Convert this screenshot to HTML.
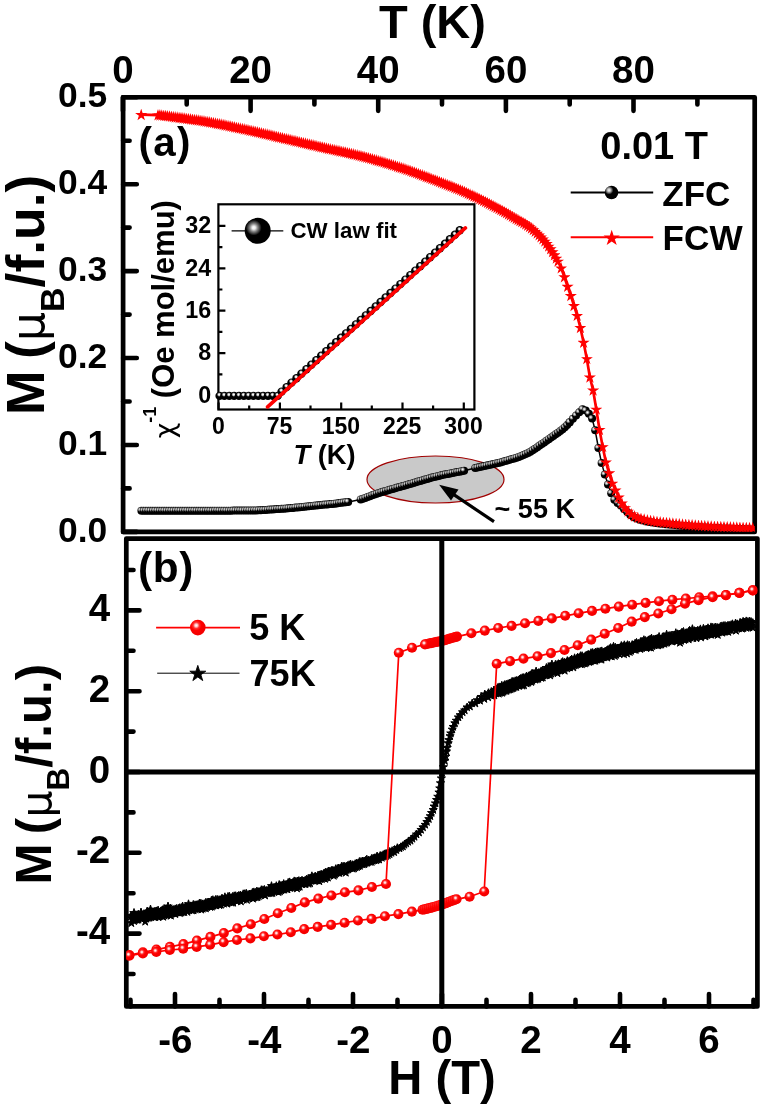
<!DOCTYPE html>
<html lang="en"><head><meta charset="utf-8"><title>Magnetization figure</title>
<style>html,body{margin:0;padding:0;background:#fff}body{width:765px;height:1109px;overflow:hidden}svg{display:block}</style>
</head><body>
<svg width="765" height="1109" viewBox="0 0 765 1109" font-family='"Liberation Sans", Arial, Helvetica, sans-serif' font-weight="bold">
<defs>
<radialGradient id="gk" cx="0.32" cy="0.33" r="0.42"><stop offset="0" stop-color="#fff"/><stop offset="0.3" stop-color="#b8b8b8"/><stop offset="0.75" stop-color="#000"/><stop offset="1" stop-color="#000"/></radialGradient>
<radialGradient id="gkb" cx="0.35" cy="0.38" r="0.30"><stop offset="0" stop-color="#fff"/><stop offset="0.2" stop-color="#eee"/><stop offset="0.5" stop-color="#888"/><stop offset="1" stop-color="#000"/></radialGradient>
<radialGradient id="gki" cx="0.45" cy="0.34" r="0.27"><stop offset="0" stop-color="#fff"/><stop offset="0.35" stop-color="#eee"/><stop offset="1" stop-color="#000"/></radialGradient>
<radialGradient id="gr" cx="0.40" cy="0.36" r="0.5"><stop offset="0" stop-color="#fff"/><stop offset="0.18" stop-color="#ffc8c8"/><stop offset="0.4" stop-color="#ff3030"/><stop offset="0.65" stop-color="#ff0000"/><stop offset="1" stop-color="#f40000"/></radialGradient>
<marker id="mz" markerUnits="userSpaceOnUse" markerWidth="10" markerHeight="10" refX="5" refY="5" viewBox="0 0 10 10"><circle cx="5" cy="5" r="4" fill="url(#gk)"/></marker>
<marker id="mf" markerUnits="userSpaceOnUse" markerWidth="12" markerHeight="12" refX="6" refY="6" viewBox="0 0 12 12"><path d="M6.00,1.70L7.03,4.88L10.37,4.88L7.67,6.84L8.70,10.02L6.00,8.06L3.30,10.02L4.33,6.84L1.63,4.88L4.97,4.88Z" fill="#f00" stroke="#f00" stroke-width="1.1" stroke-linejoin="miter"/></marker>
<marker id="ms" markerUnits="userSpaceOnUse" markerWidth="14" markerHeight="14" refX="7" refY="7" viewBox="0 0 14 14"><path d="M7.00,3.00L7.97,5.97L11.09,5.97L8.56,7.81L9.53,10.78L7.00,8.94L4.47,10.78L5.44,7.81L2.91,5.97L6.03,5.97Z" fill="#000" stroke="#000" stroke-width="1" stroke-linejoin="miter"/></marker>
<marker id="mr" markerUnits="userSpaceOnUse" markerWidth="12" markerHeight="12" refX="6" refY="6" viewBox="0 0 12 12"><circle cx="6" cy="6" r="5.05" fill="url(#gr)"/></marker>
<marker id="mi" markerUnits="userSpaceOnUse" markerWidth="10" markerHeight="10" refX="5" refY="5" viewBox="0 0 10 10"><circle cx="5" cy="5" r="4.2" fill="url(#gki)"/></marker>
<clipPath id="ca"><rect x="123.1" y="97.25" width="631.6" height="434.6"/></clipPath><clipPath id="cb"><rect x="126.3" y="538.6" width="631.1" height="467.8"/></clipPath>
</defs>
<rect width="765" height="1109" fill="#fff"/>
<rect x="123.1" y="97.25" width="631.6" height="434.65" fill="none" stroke="#000" stroke-width="4.7" stroke-linejoin="round"/>
<path d="M122.9,97.25v13.6M186.7,97.25v7.3M250.6,97.25v13.6M314.4,97.25v7.3M378.2,97.25v13.6M442.0,97.25v7.3M505.9,97.25v13.6M569.7,97.25v7.3M633.5,97.25v13.6M697.4,97.25v7.3M123.1,531.9h13.7M123.1,488.4h6.5M123.1,445.0h13.7M123.1,401.5h6.5M123.1,358.0h13.7M123.1,314.6h6.5M123.1,271.1h13.7M123.1,227.6h6.5M123.1,184.2h13.7M123.1,140.7h6.5M123.1,97.2h13.7" stroke="#000" stroke-width="4.6" stroke-linecap="round" fill="none"/>
<ellipse cx="435.5" cy="479.5" rx="68.5" ry="23.5" fill="#c9c9c9" stroke="#a00000" stroke-width="1.2"/>
<g clip-path="url(#ca)">
<polyline fill="none" stroke="#000" stroke-width="1.5" marker-start="url(#mz)" marker-mid="url(#mz)" marker-end="url(#mz)" points="141.4,510.8 143.7,510.8 146.0,510.8 148.3,510.8 150.6,510.8 152.9,510.8 155.2,510.8 157.5,510.8 159.8,510.8 162.1,510.8 164.4,510.8 166.7,510.8 169.0,510.8 171.3,510.8 173.6,510.8 175.9,510.8 178.2,510.8 180.5,510.8 182.8,510.8 185.1,510.8 187.4,510.8 189.7,510.8 192.0,510.8 194.3,510.8 196.6,510.8 198.9,510.8 201.2,510.8 203.5,510.8 205.8,510.8 208.0,510.8 210.3,510.8 212.6,510.8 214.9,510.7 217.2,510.7 219.5,510.7 221.8,510.7 224.1,510.7 226.4,510.7 228.7,510.7 231.0,510.7 233.3,510.6 235.6,510.6 237.9,510.6 240.2,510.6 242.5,510.6 244.8,510.6 247.1,510.5 249.4,510.5 251.7,510.5 254.0,510.4 256.3,510.4 258.6,510.3 260.9,510.2 263.2,510.1 265.5,509.9 267.8,509.8 270.1,509.6 272.4,509.5 274.7,509.3 277.0,509.1 279.3,509.0 281.6,508.8 283.9,508.7 286.2,508.5 288.5,508.3 290.8,508.1 293.1,507.9 295.4,507.6 297.7,507.4 300.0,507.2 302.3,506.9 304.6,506.7 306.9,506.5 309.2,506.2 311.5,506.0 313.8,505.7 316.0,505.5 318.3,505.3 320.6,505.1 322.9,504.8 325.2,504.6 327.5,504.4 329.8,504.1 332.1,503.9 334.4,503.7 336.7,503.4 339.0,503.1 341.3,502.8 343.6,502.5 345.9,502.2 348.2,501.9 360.7,499.4 363.0,498.7 365.3,497.9 367.6,497.0 369.9,496.2 372.2,495.3 374.5,494.5 376.8,493.7 379.0,493.0 381.3,492.3 383.6,491.6 385.9,490.9 388.2,490.2 390.5,489.6 392.8,488.9 395.1,488.2 397.4,487.6 399.7,487.0 402.0,486.3 404.3,485.7 406.6,485.0 408.9,484.3 411.2,483.7 413.5,483.0 415.8,482.3 418.1,481.6 420.4,480.9 422.7,480.3 425.0,479.6 427.3,478.9 429.6,478.3 431.9,477.6 434.2,477.0 436.5,476.4 438.8,475.9 441.1,475.3 443.4,474.8 445.7,474.3 448.0,473.9 450.3,473.4 452.6,473.0 454.9,472.5 457.2,472.1 459.5,471.7 461.8,471.2 464.1,470.7 475.2,468.1 477.5,467.6 479.8,467.1 482.1,466.6 484.4,466.1 486.7,465.6 489.0,465.1 491.3,464.6 493.6,464.1 495.9,463.5 498.2,463.0 500.5,462.4 502.8,461.8 505.1,461.1 507.4,460.5 509.7,459.8 512.0,459.1 514.3,458.4 516.6,457.7 518.9,456.9 521.2,456.0 523.5,455.1 525.8,454.1 528.1,453.0 530.4,451.7 532.7,450.3 535.0,448.8 537.3,447.2 539.6,445.6 541.9,444.0 544.2,442.4 546.5,440.8 548.8,439.2 551.1,437.6 553.4,436.0 555.7,434.3 558.0,432.7 560.3,431.0 562.6,429.2 564.9,427.3 567.2,425.0 569.5,422.5 569.7,422.2 572.9,418.8 576.1,415.5 579.3,412.3 582.5,409.2 585.7,410.5 588.9,413.8 592.1,418.5 595.2,430.3 598.4,448.0 601.6,463.1 604.8,474.6 608.0,484.5 611.2,493.2 614.4,499.7 617.6,502.9 620.8,505.6 624.0,509.0 627.2,512.1 630.3,514.9 633.5,517.2 636.7,518.6 639.9,519.7 643.1,520.6 646.3,521.4 649.5,522.0 652.7,522.6 655.9,523.0 659.1,523.5 662.3,523.8 665.5,524.2 668.6,524.5 671.8,524.8 675.0,525.1 678.2,525.4 681.4,525.7 684.6,525.9 687.8,526.2 691.0,526.5 694.2,526.7 697.4,526.9 700.6,527.2 703.8,527.4 706.9,527.6 710.1,527.7 713.3,527.9 716.5,528.1 719.7,528.2 722.9,528.4 726.1,528.5 729.3,528.6 732.5,528.8 735.7,528.9 738.9,529.0 742.1,529.1 745.2,529.2 748.4,529.3 751.6,529.4"/>
<polyline fill="none" stroke="#f00" stroke-width="2.7" marker-start="url(#mf)" marker-mid="url(#mf)" marker-end="url(#mf)" points="141.2,114.7 158.0,115.1 159.9,115.2 161.8,115.4 163.8,115.6 165.7,115.8 167.6,116.1 169.5,116.3 171.4,116.6 173.3,116.9 175.2,117.2 177.2,117.4 179.1,117.7 181.0,117.9 182.9,118.2 184.8,118.4 186.7,118.7 188.6,118.9 190.6,119.2 192.5,119.5 194.4,119.8 196.3,120.0 198.2,120.3 200.1,120.6 202.0,120.9 204.0,121.2 205.9,121.6 207.8,121.9 209.7,122.2 211.6,122.6 213.5,122.9 215.5,123.3 217.4,123.7 219.3,124.0 221.2,124.4 223.1,124.8 225.0,125.2 226.9,125.6 228.9,126.0 230.8,126.4 232.7,126.8 234.6,127.2 236.5,127.6 238.4,128.0 240.3,128.4 242.3,128.8 244.2,129.2 246.1,129.6 248.0,130.0 249.9,130.5 251.8,130.9 253.8,131.3 255.7,131.8 257.6,132.2 259.5,132.6 261.4,133.1 263.3,133.5 265.2,134.0 267.2,134.4 269.1,134.9 271.0,135.3 272.9,135.8 274.8,136.3 276.7,136.7 278.6,137.2 280.6,137.6 282.5,138.0 284.4,138.5 286.3,138.9 288.2,139.4 290.1,139.8 292.0,140.3 294.0,140.7 295.9,141.2 297.8,141.6 299.7,142.1 301.6,142.5 303.5,143.0 305.5,143.4 307.4,143.9 309.3,144.3 311.2,144.7 313.1,145.2 315.0,145.6 316.9,146.1 318.9,146.5 320.8,147.0 322.7,147.4 324.6,147.8 326.5,148.3 328.4,148.7 330.3,149.1 332.3,149.5 334.2,149.9 336.1,150.4 338.0,150.8 339.9,151.2 341.8,151.6 343.8,152.0 345.7,152.4 347.6,152.9 349.5,153.3 351.4,153.7 353.3,154.2 355.2,154.6 357.2,155.1 359.1,155.6 361.0,156.0 362.9,156.5 364.8,157.0 366.7,157.5 368.6,158.0 370.6,158.6 372.5,159.1 374.4,159.6 376.3,160.2 378.2,160.7 380.1,161.3 382.0,161.8 384.0,162.4 385.9,163.0 387.8,163.6 389.7,164.1 391.6,164.7 393.5,165.3 395.5,165.9 397.4,166.6 399.3,167.2 401.2,167.8 403.1,168.4 405.0,169.0 406.9,169.7 408.9,170.3 410.8,171.0 412.7,171.7 414.6,172.4 416.5,173.1 418.4,173.8 420.3,174.5 422.3,175.2 424.2,175.9 426.1,176.7 428.0,177.4 429.9,178.1 431.8,178.9 433.8,179.6 435.7,180.3 437.6,181.1 439.5,181.8 441.4,182.5 443.3,183.3 445.2,184.0 447.2,184.7 449.1,185.5 451.0,186.2 452.9,186.9 454.8,187.7 456.7,188.5 458.6,189.3 460.6,190.1 462.5,190.9 464.4,191.7 466.3,192.6 468.2,193.5 470.1,194.4 472.1,195.3 474.0,196.2 475.9,197.1 477.8,198.0 479.7,199.0 481.6,199.9 483.5,200.9 485.5,201.8 487.4,202.8 489.3,203.8 491.2,204.8 493.1,205.8 495.0,206.8 496.9,207.8 498.9,208.8 500.8,209.9 502.7,210.9 504.6,212.0 506.5,213.1 508.4,214.2 510.3,215.4 512.3,216.5 514.2,217.6 516.1,218.7 518.0,219.8 519.9,220.9 521.8,221.9 523.8,223.0 525.7,224.2 527.6,225.5 529.5,226.8 531.4,228.3 533.3,229.9 535.2,231.6 537.2,233.3 539.1,235.1 541.0,237.1 542.9,239.1 544.8,241.3 546.7,243.7 548.6,246.3 550.6,249.0 552.5,251.9 554.4,255.0 556.3,258.3 558.0,261.3 561.2,268.1 564.4,277.0 567.6,286.5 570.8,295.7 574.0,305.7 577.2,315.6 580.4,327.7 583.6,342.5 586.8,358.8 589.9,377.2 593.1,390.2 596.3,409.3 599.5,429.7 602.7,446.8 605.9,462.1 609.1,473.0 612.3,483.3 615.5,490.1 618.7,497.2 621.9,503.2 625.1,507.9 628.2,511.3 631.4,514.2 634.6,516.2 637.8,517.5 641.0,518.6 644.2,519.4 647.4,520.1 650.6,520.7 653.8,521.2 657.0,521.7 660.2,522.1 663.3,522.5 666.5,522.8 669.7,523.1 672.9,523.4 676.1,523.7 679.3,524.0 682.5,524.3 685.7,524.5 688.9,524.8 692.1,525.0 695.3,525.3 698.5,525.5 701.6,525.7 704.8,525.9 708.0,526.1 711.2,526.3 714.4,526.5 717.6,526.6 720.8,526.8 724.0,526.9 727.2,527.0 730.4,527.2 733.6,527.3 736.8,527.4 739.9,527.5 743.1,527.6 746.3,527.7 749.5,527.8 752.7,527.9"/>
</g>
<line x1="494" y1="521.7" x2="452" y2="493.4" stroke="#000" stroke-width="3.2"/>
<path d="M439.1,484.7L458.5,489.5L451.0,500.6Z" fill="#000"/>
<text x="494.6" y="518" font-size="27">~ 55 K</text>
<text x="122.9" y="83.3" font-size="38.5" text-anchor="middle">0</text>
<text x="250.6" y="83.3" font-size="38.5" text-anchor="middle">20</text>
<text x="378.2" y="83.3" font-size="38.5" text-anchor="middle">40</text>
<text x="505.9" y="83.3" font-size="38.5" text-anchor="middle">60</text>
<text x="633.5" y="83.3" font-size="38.5" text-anchor="middle">80</text>
<text x="107.3" y="541.5" font-size="35.4" text-anchor="end">0.0</text>
<text x="107.3" y="454.6" font-size="35.4" text-anchor="end">0.1</text>
<text x="107.3" y="367.6" font-size="35.4" text-anchor="end">0.2</text>
<text x="107.3" y="280.7" font-size="35.4" text-anchor="end">0.3</text>
<text x="107.3" y="193.8" font-size="35.4" text-anchor="end">0.4</text>
<text x="107.3" y="106.8" font-size="35.4" text-anchor="end">0.5</text>
<text x="432.4" y="37.9" font-size="47" text-anchor="middle">T (K)</text>
<text transform="translate(44.4,415) rotate(-90)" font-size="53.4"><tspan>M</tspan><tspan dx="11.5">(</tspan><tspan font-family='"DejaVu Sans", "Liberation Sans", sans-serif' font-weight="normal" font-size="46">μ</tspan><tspan dy="20" font-size="34">B</tspan><tspan dy="-20">/f.u.)</tspan></text>
<text x="138.6" y="155.8" font-size="40.3" letter-spacing="1.3">(a)</text>
<text x="600.3" y="158.8" font-size="38">0.01 T</text>
<line x1="570.7" y1="192.5" x2="653.2" y2="192.5" stroke="#000" stroke-width="1.8"/><circle cx="611.5" cy="192.5" r="6.8" fill="url(#gk)"/>
<text x="662.3" y="206" font-size="35">ZFC</text>
<line x1="570.7" y1="237.3" x2="653.2" y2="237.3" stroke="#f00" stroke-width="2"/><path d="M611.70,231.60L613.18,236.16L617.98,236.16L614.10,238.98L615.58,243.54L611.70,240.72L607.82,243.54L609.30,238.98L605.42,236.16L610.22,236.16Z" fill="#f00" stroke="#f00" stroke-width="1.2"/>
<text x="662.5" y="250.2" font-size="35.2">FCW</text>
<rect x="218.4" y="204.3" width="256.0" height="205.2" fill="#fff" stroke="#000" stroke-width="2.2"/>
<path d="M218.6,409.5v-7M249.2,409.5v-4M279.9,409.5v-7M310.5,409.5v-4M341.2,409.5v-7M371.8,409.5v-4M402.5,409.5v-7M433.1,409.5v-4M463.8,409.5v-7M218.4,395.5h7M218.4,374.3h4M218.4,353.1h7M218.4,331.9h4M218.4,310.7h7M218.4,289.5h4M218.4,268.3h7M218.4,247.1h4M218.4,225.9h7" stroke="#000" stroke-width="2.2" fill="none"/>
<polyline fill="none" stroke="#000" stroke-width="1" marker-start="url(#mi)" marker-mid="url(#mi)" marker-end="url(#mi)" points="219.6,395.9 224.4,395.9 229.3,395.9 234.1,395.9 239.0,395.9 243.8,395.9 248.6,395.9 253.5,395.9 258.3,395.9 263.2,395.9 268.0,395.9 272.8,395.9 277.7,395.9 281.6,391.6 286.6,387.1 291.5,382.6 296.5,378.2 301.4,373.7 306.4,369.2 311.3,364.7 316.3,360.2 321.2,355.8 326.2,351.3 331.1,346.8 336.1,342.3 341.0,337.8 346.0,333.4 350.9,328.9 355.9,324.4 360.8,319.9 365.8,315.4 370.7,311.0 375.7,306.5 380.6,302.0 385.6,297.5 390.5,293.0 395.5,288.6 400.4,284.1 405.4,279.6 410.3,275.1 415.3,270.6 420.2,266.2 425.2,261.7 430.1,257.2 435.1,252.7 440.0,248.2 445.0,243.8 449.9,239.3 454.9,234.8 459.8,230.3"/>
<line x1="267.6" y1="406.9" x2="465.4" y2="227.9" stroke="#f00" stroke-width="3.7" stroke-linecap="round"/>
<text x="218.3" y="434.4" font-size="23" text-anchor="middle">0</text>
<text x="279.6" y="434.4" font-size="23" text-anchor="middle">75</text>
<text x="340.9" y="434.4" font-size="23" text-anchor="middle">150</text>
<text x="402.2" y="434.4" font-size="23" text-anchor="middle">225</text>
<text x="463.5" y="434.4" font-size="23" text-anchor="middle">300</text>
<text x="211.2" y="402.7" font-size="23.3" text-anchor="end">0</text>
<text x="211.2" y="360.3" font-size="23.3" text-anchor="end">8</text>
<text x="211.2" y="317.9" font-size="23.3" text-anchor="end">16</text>
<text x="211.2" y="275.5" font-size="23.3" text-anchor="end">24</text>
<text x="211.2" y="233.1" font-size="23.3" text-anchor="end">32</text>
<text x="293.5" y="464.3" font-size="27.3"><tspan font-style="italic">T</tspan> (K)</text>
<text transform="translate(173.5,438.3) rotate(-90)" font-size="31"><tspan font-family='"DejaVu Sans", sans-serif' font-weight="normal" font-size="27">χ</tspan><tspan dy="-18" font-size="18">-1</tspan><tspan dy="18" dx="8.5">(Oe mol/emu)</tspan></text>
<line x1="231.6" y1="230.8" x2="283.3" y2="230.8" stroke="#000" stroke-width="1.2"/><circle cx="257.7" cy="230.8" r="13" fill="url(#gkb)"/>
<text x="290.5" y="238.3" font-size="22.3">CW law fit</text>
<rect x="126.3" y="538.6" width="631.1" height="467.8" fill="none" stroke="#000" stroke-width="4.7" stroke-linejoin="round"/>
<path d="M130.5,1006.4v-6.5M175.0,1006.4v-12.3M219.5,1006.4v-6.5M264.0,1006.4v-12.3M308.5,1006.4v-6.5M353.0,1006.4v-12.3M397.5,1006.4v-6.5M442.0,1006.4v-12.3M486.5,1006.4v-6.5M531.0,1006.4v-12.3M575.5,1006.4v-6.5M620.0,1006.4v-12.3M664.5,1006.4v-6.5M709.0,1006.4v-12.3M753.5,1006.4v-6.5M126.3,974.0h7.2M126.3,933.6h13.2M126.3,893.2h7.2M126.3,852.8h13.2M126.3,812.4h7.2M126.3,772.0h13.2M126.3,731.6h7.2M126.3,691.2h13.2M126.3,650.8h7.2M126.3,610.4h13.2M126.3,570.0h7.2" stroke="#000" stroke-width="4.6" stroke-linecap="round" fill="none"/>
<g clip-path="url(#cb)">
<polyline fill="none" stroke="#000" stroke-width="1" marker-start="url(#ms)" marker-mid="url(#ms)" marker-end="url(#ms)" points="131.3,922.8 132.1,918.4 134.1,920.8 135.4,919.6 137.0,919.5 138.5,919.4 139.8,917.5 141.6,918.8 143.0,918.0 145.2,921.4 146.2,918.4 147.7,917.6 149.2,917.4 150.7,916.7 152.1,916.1 153.8,916.4 155.4,916.9 156.8,916.0 158.5,916.8 159.9,915.5 161.4,915.4 163.2,916.5 164.6,915.3 165.9,914.1 167.5,914.1 169.1,914.5 170.9,915.4 172.1,913.2 173.6,913.0 175.3,913.8 176.5,911.8 178.2,912.1 179.9,912.8 181.4,912.3 182.8,911.6 184.4,911.8 185.4,908.4 187.5,911.6 188.7,909.5 190.1,908.6 192.0,910.1 193.6,910.1 194.9,908.8 196.3,908.0 198.1,908.7 199.6,908.3 201.3,909.3 202.8,908.4 204.2,907.6 205.9,908.1 207.2,906.7 208.5,905.7 210.3,906.7 211.9,906.4 213.2,905.4 214.7,904.6 216.4,905.2 217.4,902.5 219.5,904.9 221.0,904.4 222.1,902.2 223.9,903.4 225.2,902.2 227.1,903.4 228.1,900.6 229.8,901.3 231.6,902.4 233.2,902.4 234.1,899.2 236.0,900.3 237.6,900.7 239.0,899.5 240.9,901.1 241.9,898.3 243.7,899.3 244.9,897.8 246.9,899.6 248.2,898.0 249.6,897.3 250.8,895.8 253.0,898.4 254.4,897.2 255.9,896.9 257.5,896.9 258.8,895.8 260.1,894.6 261.6,894.1 263.1,893.7 265.1,895.2 266.0,892.4 267.7,892.8 269.2,892.7 270.9,892.8 272.4,892.7 273.5,890.7 274.9,889.9 276.8,891.1 278.6,891.8 280.0,891.0 281.4,890.1 282.8,889.3 284.4,889.4 285.8,888.5 287.5,889.1 288.7,887.3 290.4,887.7 291.8,887.1 293.5,887.2 294.9,886.5 297.0,888.1 298.2,886.8 299.7,886.4 300.4,882.9 302.3,884.0 303.7,883.3 305.5,883.9 306.3,881.0 308.6,883.5 310.1,883.0 311.0,880.5 312.5,880.3 314.1,880.0 315.8,880.2 317.5,880.2 319.3,880.9 320.2,878.5 321.9,878.8 323.2,877.8 325.1,878.6 326.3,877.3 327.9,877.3 328.7,874.7 330.4,875.0 331.7,874.0 333.8,875.5 335.0,874.3 336.2,873.0 337.7,872.4 339.4,872.7 340.6,871.3 342.0,870.7 343.8,871.3 345.8,872.4 346.6,869.8 348.0,869.1 349.3,868.1 350.8,867.5 352.7,868.4 354.2,868.1 355.5,867.0 357.0,866.7 358.4,866.0 359.9,865.5 361.0,863.9 362.7,864.1 364.3,863.9 365.6,862.8 367.1,862.5 368.5,861.7 370.0,861.5 371.7,861.6 372.9,860.4 374.4,860.0 376.1,859.9 377.5,859.3 379.1,859.2 379.9,856.8 381.8,857.5 383.0,856.3 384.6,855.9 386.1,855.6 387.8,854.9 389.6,853.9 391.5,852.5 394.1,851.8 396.4,849.7 399.4,848.0 402.9,846.1 406.2,843.1 410.5,840.4 414.5,836.5 419.0,832.2 423.0,827.0 426.9,821.6 430.3,815.8 433.2,809.6 435.5,803.0 437.8,796.3 439.8,788.0 441.4,778.0 443.4,766.8 445.8,756.3 447.2,747.5 448.9,739.7 450.8,733.0 453.2,726.5 456.3,720.3 460.2,714.8 464.7,710.0 469.9,706.1 475.3,703.1 480.0,700.4 484.3,698.6 488.1,697.0 491.1,695.3 494.3,695.1 496.3,693.2 498.8,693.4 500.4,692.5 502.1,692.5 503.4,691.5 504.7,690.6 506.4,690.6 507.6,689.6 509.1,689.3 510.6,688.9 512.0,688.2 513.4,687.7 514.7,686.8 516.3,686.7 517.4,685.0 519.2,685.6 520.5,684.5 522.5,685.4 524.0,685.0 524.7,682.4 526.7,683.2 528.1,682.4 529.3,681.3 531.2,681.7 532.3,680.5 533.4,679.0 535.3,679.4 536.8,678.9 538.3,678.5 539.3,676.9 541.3,677.6 542.8,677.1 543.6,675.1 545.1,674.9 546.8,674.7 548.0,673.8 550.2,675.1 551.1,673.3 552.1,671.7 553.6,671.3 555.3,671.4 557.5,672.9 558.2,670.3 559.7,670.0 561.3,669.9 562.6,668.9 564.7,670.4 565.3,667.5 567.2,668.1 568.5,667.1 570.0,667.1 571.0,665.1 573.3,667.1 574.2,665.1 575.8,664.8 577.0,663.5 578.5,663.2 580.3,663.9 581.9,663.9 583.3,663.2 584.9,663.2 586.3,662.4 587.6,661.4 589.3,661.7 590.7,661.1 592.1,660.0 593.8,660.4 595.4,660.5 596.6,659.2 598.0,658.3 599.7,658.8 601.5,659.4 602.5,657.2 604.0,656.9 605.5,656.5 607.3,657.3 608.1,654.3 610.1,655.8 611.8,656.2 612.9,654.1 614.9,655.7 616.2,654.5 617.4,653.2 619.1,653.5 620.2,651.6 622.0,652.1 624.0,653.9 624.9,651.1 627.0,653.2 628.1,651.1 629.8,651.7 631.1,650.5 632.2,648.2 634.0,649.3 635.7,649.6 636.9,648.1 638.4,647.6 640.2,648.7 641.5,647.5 642.8,646.2 644.5,646.8 646.4,647.8 647.6,646.3 649.4,647.2 651.0,647.4 652.2,645.8 653.5,644.4 655.0,644.0 656.8,644.8 658.4,645.2 659.8,644.4 661.4,644.3 662.7,643.1 664.4,643.5 665.8,642.5 667.3,642.3 668.6,641.1 670.1,640.5 671.8,641.1 673.2,640.3 674.8,640.1 676.6,641.2 677.9,640.2 680.0,642.5 681.1,640.5 682.4,638.8 684.1,639.7 685.6,639.0 686.9,637.8 688.7,639.1 689.9,637.1 691.1,634.8 693.2,637.9 694.5,636.4 696.4,637.9 697.6,635.7 699.0,635.0 701.0,637.1 702.1,634.5 703.8,635.3 705.5,636.2 706.8,634.7 708.3,634.2 709.8,634.1 711.5,634.5 712.8,632.7 714.5,633.7 716.0,633.4 717.8,634.6 718.9,632.0 720.4,631.2 722.1,632.4 723.5,631.1 725.1,631.4 726.6,631.0 728.3,631.6 729.5,629.7 731.1,629.9 732.3,627.4 734.1,628.6 736.0,630.4 737.1,628.2 738.7,627.9 740.1,627.1 741.9,628.4 743.4,627.8 744.7,626.3 746.5,627.6 747.9,627.0 749.5,627.1 750.8,625.6 752.8,627.4"/>
<polyline fill="none" stroke="#000" stroke-width="1" marker-start="url(#ms)" marker-mid="url(#ms)" marker-end="url(#ms)" points="130.9,916.2 132.3,915.5 133.8,914.9 135.3,914.8 137.1,915.5 138.4,914.3 140.1,915.2 141.6,914.5 143.2,914.9 144.7,914.1 146.1,913.1 147.3,911.2 149.2,912.9 150.8,913.0 152.2,912.2 153.8,912.3 155.1,911.1 156.7,910.9 158.1,910.1 160.0,911.9 161.4,910.6 162.8,909.7 164.2,908.7 165.9,909.5 167.7,910.6 169.0,909.5 170.4,908.2 172.2,909.8 173.8,909.5 175.2,908.9 176.7,908.4 178.3,908.5 179.7,907.7 181.3,907.6 182.6,906.0 184.5,907.7 185.8,906.3 187.6,907.6 188.5,903.8 190.4,905.9 192.0,905.9 193.3,904.4 195.0,904.8 196.5,904.8 198.0,904.4 199.4,903.1 200.9,903.2 202.7,903.9 204.2,903.8 205.5,902.5 207.1,902.2 208.6,902.0 210.3,902.4 211.4,900.3 212.9,899.7 214.6,900.7 215.9,899.3 217.6,899.5 219.2,899.7 220.8,899.8 222.0,898.1 223.9,899.4 224.9,896.8 226.9,898.6 228.0,896.4 229.5,896.3 231.4,897.7 232.7,896.4 234.2,895.8 235.7,895.7 237.4,896.2 238.8,895.4 240.4,895.1 242.1,895.7 243.2,893.8 244.8,893.7 246.3,893.3 248.1,894.5 249.6,894.0 251.2,893.9 252.4,892.4 253.9,891.9 255.6,892.4 256.9,891.0 258.6,891.7 260.1,891.3 261.3,889.7 263.0,889.8 264.5,889.5 266.4,890.7 268.0,891.1 269.0,888.4 270.5,888.1 271.5,885.7 273.6,887.6 275.0,887.0 276.3,885.7 278.2,886.9 279.2,884.5 281.0,885.3 282.5,885.2 283.7,883.6 285.7,885.1 287.2,884.9 288.2,882.4 289.7,881.9 291.6,883.3 293.0,882.3 294.2,880.9 295.9,881.3 297.4,881.1 298.9,880.6 300.6,881.0 302.0,880.2 303.8,881.0 305.2,880.2 306.5,879.2 308.1,879.1 309.7,878.9 311.0,877.9 311.9,875.8 314.0,877.1 315.2,876.0 317.1,876.8 318.1,875.0 319.7,874.9 321.1,874.2 323.0,874.8 324.0,873.1 325.4,872.2 327.0,872.2 328.3,871.0 329.9,871.1 331.4,870.4 332.9,870.2 334.8,871.2 335.7,868.7 337.3,868.6 338.7,868.0 340.4,868.2 341.5,866.3 343.1,866.2 344.7,866.3 346.4,866.4 347.7,865.5 349.1,864.8 350.5,864.1 352.3,864.7 354.0,864.9 355.2,863.7 356.7,863.1 358.2,862.9 359.4,861.5 361.0,861.5 362.5,861.1 364.1,861.0 365.5,860.4 366.8,859.2 368.7,860.1 370.3,860.0 371.5,858.5 373.0,858.4 374.5,857.8 376.1,857.6 377.1,856.0 379.1,857.0 380.2,855.5 382.0,855.7 383.2,854.7 384.5,853.9 386.1,853.4 388.1,853.1 389.7,851.5 392.1,850.7 394.6,849.5 397.3,847.7 401.0,846.8 404.4,844.4 408.2,841.5 412.4,838.4 416.5,834.1 421.0,829.5 425.2,824.4 428.8,818.7 431.6,812.6 434.1,806.1 436.6,799.6 439.0,792.1 440.5,782.9 442.0,772.2 444.9,760.6 446.5,751.1 448.2,742.9 450.1,735.8 452.3,729.2 454.9,722.9 458.4,717.0 462.6,711.9 467.1,707.0 472.2,703.0 477.2,699.9 481.2,696.5 484.8,694.0 488.4,692.7 491.3,691.5 493.9,690.4 496.0,689.4 497.5,687.7 499.1,686.9 500.8,687.1 501.8,685.3 503.7,685.7 504.9,684.5 506.5,684.4 508.0,683.8 509.5,683.3 510.9,682.8 512.1,681.3 513.8,681.5 515.2,680.8 516.7,680.5 518.4,680.5 519.5,679.1 520.9,678.3 522.3,677.7 523.8,677.5 525.5,677.6 526.5,676.0 528.5,676.8 529.7,675.6 530.9,674.7 532.0,673.3 533.9,673.8 535.5,673.6 536.1,671.1 538.5,672.7 540.1,672.5 541.1,670.9 542.6,670.4 544.6,671.3 545.7,669.8 546.4,667.5 548.2,667.6 549.6,666.9 551.1,666.4 551.9,664.0 554.3,666.1 555.4,664.3 557.1,664.5 558.4,663.7 560.2,664.1 561.4,662.6 562.7,661.6 564.6,662.3 566.3,662.5 567.3,660.6 569.2,661.6 570.4,660.1 571.7,659.0 573.8,660.3 574.6,657.8 576.6,659.0 577.7,657.2 579.4,657.6 580.5,655.7 582.1,655.7 584.1,656.9 585.4,655.7 586.8,655.2 588.2,654.3 589.9,654.7 591.0,652.7 592.6,652.5 594.3,652.9 595.7,652.0 597.2,651.7 598.8,651.8 600.3,651.4 601.8,650.9 603.7,652.2 605.1,651.2 606.7,651.0 607.9,649.6 609.3,648.8 610.6,647.6 612.3,648.2 613.5,646.3 615.3,647.2 617.1,648.0 618.8,648.4 620.2,647.5 621.3,645.5 623.1,646.3 624.3,644.8 626.2,645.9 627.5,644.7 629.2,645.2 631.1,646.4 632.2,644.6 634.0,645.4 635.1,643.2 636.5,642.4 638.4,643.5 640.0,643.5 641.0,641.2 642.7,641.4 643.9,639.7 645.6,640.5 647.4,641.1 648.7,639.9 650.1,639.1 651.5,638.1 653.3,639.3 654.9,639.3 656.4,638.8 657.9,638.2 659.1,636.5 661.2,638.9 662.4,637.0 663.9,636.6 665.6,637.1 666.6,634.2 668.5,635.8 670.0,635.4 671.6,635.5 673.3,636.1 674.7,635.1 675.8,632.7 677.6,633.8 679.2,634.0 680.7,633.6 682.0,632.1 683.5,631.5 685.4,633.1 686.9,632.7 688.3,632.1 689.6,630.3 691.7,633.1 692.4,628.7 694.4,630.7 696.3,632.6 697.5,630.4 699.1,630.4 700.4,628.9 702.3,630.9 703.4,628.3 705.2,629.4 706.7,629.1 708.0,627.8 709.9,629.2 711.0,626.9 712.7,627.3 714.3,627.6 715.8,627.0 717.5,627.6 719.1,627.7 720.4,626.4 721.9,625.9 723.4,625.7 725.0,625.5 726.7,626.3 728.0,625.2 729.7,625.4 731.1,624.7 732.5,623.8 734.3,625.1 735.5,623.1 737.2,623.8 739.0,624.8 740.1,622.3 741.8,622.9 743.1,621.3 744.8,622.0 746.2,620.9 747.9,621.6 749.4,621.2 751.0,621.5 752.8,622.6"/>
<path d="M168.00,902.00L169.01,905.11L172.28,905.11L169.63,907.03L170.65,910.14L168.00,908.22L165.35,910.14L166.37,907.03L163.72,905.11L166.99,905.11ZM150.50,905.00L151.51,908.11L154.78,908.11L152.13,910.03L153.15,913.14L150.50,911.22L147.85,913.14L148.87,910.03L146.22,908.11L149.49,908.11ZM141.00,908.00L142.01,911.11L145.28,911.11L142.63,913.03L143.65,916.14L141.00,914.22L138.35,916.14L139.37,913.03L136.72,911.11L139.99,911.11ZM134.00,908.50L135.01,911.61L138.28,911.61L135.63,913.53L136.65,916.64L134.00,914.72L131.35,916.64L132.37,913.53L129.72,911.61L132.99,911.61Z" fill="#000" stroke="#000" stroke-width="1"/>
<polyline fill="none" stroke="#000" stroke-width="5" points="130.5,918.5 131.1,918.4 131.7,918.3 132.4,918.2 133.0,918.0 133.6,917.9 134.2,917.8 134.9,917.7 135.5,917.6 136.1,917.5 136.7,917.4 137.4,917.2 138.0,917.1 138.6,917.0 139.2,916.9 139.8,916.8 140.5,916.7 141.1,916.6 141.7,916.5 142.3,916.3 143.0,916.2 143.6,916.1 144.2,916.0 144.8,915.9 145.5,915.8 146.1,915.7 146.7,915.6 147.3,915.4 147.9,915.3 148.6,915.2 149.2,915.1 149.8,915.0 150.4,914.9 151.1,914.8 151.7,914.6 152.3,914.5 152.9,914.4 153.6,914.3 154.2,914.2 154.8,914.1 155.4,914.0 156.0,913.9 156.7,913.7 157.3,913.6 157.9,913.5 158.5,913.4 159.2,913.3 159.8,913.2 160.4,913.1 161.0,913.0 161.7,912.8 162.3,912.7 162.9,912.6 163.5,912.5 164.1,912.4 164.8,912.3 165.4,912.2 166.0,912.1 166.6,912.0 167.3,911.8 167.9,911.7 168.5,911.6 169.1,911.5 169.7,911.4 170.4,911.3 171.0,911.2 171.6,911.1 172.2,911.0 172.9,910.8 173.5,910.7 174.1,910.6 174.7,910.5 175.4,910.4 176.0,910.3 176.6,910.2 177.2,910.1 177.8,910.0 178.5,909.8 179.1,909.7 179.7,909.6 180.3,909.5 181.0,909.4 181.6,909.3 182.2,909.2 182.8,909.1 183.5,909.0 184.1,908.8 184.7,908.7 185.3,908.6 185.9,908.5 186.6,908.4 187.2,908.3 187.8,908.2 188.4,908.0 189.1,907.9 189.7,907.8 190.3,907.7 190.9,907.6 191.6,907.5 192.2,907.4 192.8,907.2 193.4,907.1 194.0,907.0 194.7,906.9 195.3,906.8 195.9,906.7 196.5,906.5 197.2,906.4 197.8,906.3 198.4,906.2 199.0,906.1 199.7,905.9 200.3,905.8 200.9,905.7 201.5,905.6 202.1,905.5 202.8,905.3 203.4,905.2 204.0,905.1 204.6,905.0 205.3,904.8 205.9,904.7 206.5,904.6 207.1,904.5 207.8,904.3 208.4,904.2 209.0,904.1 209.6,904.0 210.2,903.8 210.9,903.7 211.5,903.6 212.1,903.5 212.7,903.3 213.4,903.2 214.0,903.1 214.6,903.0 215.2,902.8 215.9,902.7 216.5,902.6 217.1,902.4 217.7,902.3 218.3,902.2 219.0,902.1 219.6,901.9 220.2,901.8 220.8,901.7 221.5,901.5 222.1,901.4 222.7,901.3 223.3,901.1 223.9,901.0 224.6,900.9 225.2,900.8 225.8,900.6 226.4,900.5 227.1,900.4 227.7,900.2 228.3,900.1 228.9,900.0 229.6,899.8 230.2,899.7 230.8,899.6 231.4,899.4 232.0,899.3 232.7,899.1 233.3,899.0 233.9,898.9 234.5,898.7 235.2,898.6 235.8,898.5 236.4,898.3 237.0,898.2 237.7,898.1 238.3,897.9 238.9,897.8 239.5,897.6 240.1,897.5 240.8,897.4 241.4,897.2 242.0,897.1 242.6,896.9 243.3,896.8 243.9,896.7 244.5,896.5 245.1,896.4 245.8,896.2 246.4,896.1 247.0,896.0 247.6,895.8 248.2,895.7 248.9,895.5 249.5,895.4 250.1,895.2 250.7,895.1 251.4,894.9 252.0,894.8 252.6,894.7 253.2,894.5 253.9,894.4 254.5,894.2 255.1,894.1 255.7,893.9 256.3,893.8 257.0,893.6 257.6,893.5 258.2,893.3 258.8,893.2 259.5,893.0 260.1,892.9 260.7,892.7 261.3,892.6 262.0,892.4 262.6,892.3 263.2,892.1 263.8,892.0 264.4,891.8 265.1,891.7 265.7,891.5 266.3,891.4 266.9,891.2 267.6,891.1 268.2,890.9 268.8,890.8 269.4,890.6 270.1,890.5 270.7,890.3 271.3,890.2 271.9,890.0 272.5,889.9 273.2,889.7 273.8,889.6 274.4,889.4 275.0,889.3 275.7,889.1 276.3,888.9 276.9,888.8 277.5,888.6 278.2,888.5 278.8,888.3 279.4,888.2 280.0,888.0 280.6,887.8 281.3,887.7 281.9,887.5 282.5,887.4 283.1,887.2 283.8,887.1 284.4,886.9 285.0,886.7 285.6,886.6 286.2,886.4 286.9,886.2 287.5,886.1 288.1,885.9 288.7,885.8 289.4,885.6 290.0,885.4 290.6,885.3 291.2,885.1 291.9,884.9 292.5,884.8 293.1,884.6 293.7,884.4 294.3,884.2 295.0,884.1 295.6,883.9 296.2,883.7 296.8,883.6 297.5,883.4 298.1,883.2 298.7,883.0 299.3,882.9 300.0,882.7 300.6,882.5 301.2,882.3 301.8,882.2 302.4,882.0 303.1,881.8 303.7,881.6 304.3,881.5 304.9,881.3 305.6,881.1 306.2,880.9 306.8,880.7 307.4,880.6 308.1,880.4 308.7,880.2 309.3,880.0 309.9,879.8 310.5,879.6 311.2,879.4 311.8,879.2 312.4,879.0 313.0,878.9 313.7,878.7 314.3,878.4 314.9,878.2 315.5,878.0 316.2,877.8 316.8,877.6 317.4,877.4 318.0,877.2 318.6,877.0 319.3,876.8 319.9,876.6 320.5,876.3 321.1,876.1 321.8,875.9 322.4,875.7 323.0,875.5 323.6,875.2 324.3,875.0 324.9,874.8 325.5,874.6 326.1,874.4 326.7,874.2 327.4,874.0 328.0,873.8 328.6,873.5 329.2,873.3 329.9,873.1 330.5,872.9 331.1,872.7 331.7,872.5 332.4,872.3 333.0,872.1 333.6,871.9 334.2,871.7 334.8,871.5 335.5,871.3 336.1,871.1 336.7,870.9 337.3,870.8 338.0,870.6 338.6,870.4 339.2,870.2 339.8,870.0 340.5,869.8 341.1,869.6 341.7,869.4 342.3,869.2 342.9,869.0 343.6,868.8 344.2,868.6 344.8,868.5 345.4,868.3 346.1,868.1 346.7,867.9 347.3,867.7 347.9,867.5 348.6,867.3 349.2,867.1 349.8,866.9 350.4,866.7 351.0,866.5 351.7,866.3 352.3,866.2 352.9,866.0 353.5,865.8 354.2,865.6 354.8,865.4 355.4,865.2 356.0,865.0 356.6,864.8 357.3,864.6 357.9,864.4 358.5,864.2 359.1,864.0 359.8,863.8 360.4,863.6 361.0,863.4 361.6,863.1 362.3,862.9 362.9,862.7 363.5,862.5 364.1,862.3 364.7,862.1 365.4,861.9 366.0,861.7 366.6,861.5 367.2,861.3 367.9,861.1 368.5,860.9 369.1,860.7 369.7,860.5 370.4,860.2 371.0,860.0 371.6,859.8 372.2,859.6 372.8,859.4 373.5,859.2 374.1,859.0 374.7,858.8 375.3,858.6 376.0,858.4 376.6,858.1 377.2,857.9 377.8,857.7 378.5,857.4 379.1,857.2 379.7,857.0 380.3,856.7 380.9,856.5 381.6,856.2 382.2,856.0 382.8,855.7 383.4,855.4 384.1,855.2 384.7,854.9 385.3,854.6 385.9,854.4 386.6,854.1 387.2,853.8 387.8,853.5 388.4,853.3 389.0,853.0 389.7,852.7 390.3,852.4 390.9,852.1 391.5,851.8 392.2,851.5 392.8,851.2 393.4,850.9 394.0,850.5 394.7,850.2 395.3,849.9 395.9,849.6 396.5,849.2 397.1,848.9"/>
<polyline fill="none" stroke="#000" stroke-width="5" points="486.5,695.8 487.2,695.6 487.8,695.3 488.4,695.0 489.0,694.7 489.7,694.4 490.3,694.1 490.9,693.8 491.5,693.5 492.2,693.3 492.8,693.0 493.4,692.7 494.0,692.4 494.6,692.1 495.3,691.9 495.9,691.6 496.5,691.3 497.1,691.1 497.8,690.8 498.4,690.5 499.0,690.2 499.6,690.0 500.3,689.7 500.9,689.5 501.5,689.2 502.1,688.9 502.7,688.7 503.4,688.4 504.0,688.2 504.6,687.9 505.2,687.7 505.9,687.4 506.5,687.2 507.1,686.9 507.7,686.7 508.3,686.5 509.0,686.2 509.6,686.0 510.2,685.8 510.8,685.5 511.5,685.3 512.1,685.1 512.7,684.9 513.3,684.6 514.0,684.4 514.6,684.2 515.2,684.0 515.8,683.8 516.4,683.5 517.1,683.3 517.7,683.1 518.3,682.9 518.9,682.7 519.6,682.4 520.2,682.2 520.8,682.0 521.4,681.8 522.1,681.6 522.7,681.3 523.3,681.1 523.9,680.9 524.5,680.6 525.2,680.4 525.8,680.2 526.4,679.9 527.0,679.7 527.7,679.5 528.3,679.2 528.9,679.0 529.5,678.7 530.2,678.5 530.8,678.2 531.4,678.0 532.0,677.7 532.6,677.4 533.3,677.2 533.9,676.9 534.5,676.7 535.1,676.4 535.8,676.1 536.4,675.9 537.0,675.6 537.6,675.3 538.3,675.1 538.9,674.8 539.5,674.5 540.1,674.3 540.7,674.0 541.4,673.8 542.0,673.5 542.6,673.2 543.2,673.0 543.9,672.7 544.5,672.4 545.1,672.2 545.7,671.9 546.4,671.7 547.0,671.4 547.6,671.2 548.2,670.9 548.8,670.7 549.5,670.4 550.1,670.2 550.7,669.9 551.3,669.7 552.0,669.5 552.6,669.2 553.2,669.0 553.8,668.8 554.5,668.5 555.1,668.3 555.7,668.1 556.3,667.9 556.9,667.6 557.6,667.4 558.2,667.2 558.8,667.0 559.4,666.8 560.1,666.5 560.7,666.3 561.3,666.1 561.9,665.9 562.6,665.7 563.2,665.5 563.8,665.3 564.4,665.1 565.0,664.9 565.7,664.6 566.3,664.4 566.9,664.2 567.5,664.0 568.2,663.8 568.8,663.6 569.4,663.4 570.0,663.2 570.6,663.0 571.3,662.9 571.9,662.7 572.5,662.5 573.1,662.3 573.8,662.1 574.4,661.9 575.0,661.7 575.6,661.5 576.3,661.4 576.9,661.2 577.5,661.0 578.1,660.8 578.7,660.6 579.4,660.5 580.0,660.3 580.6,660.1 581.2,659.9 581.9,659.7 582.5,659.6 583.1,659.4 583.7,659.2 584.4,659.0 585.0,658.9 585.6,658.7 586.2,658.5 586.8,658.3 587.5,658.2 588.1,658.0 588.7,657.8 589.3,657.7 590.0,657.5 590.6,657.3 591.2,657.1 591.8,657.0 592.5,656.8 593.1,656.6 593.7,656.5 594.3,656.3 594.9,656.2 595.6,656.0 596.2,655.8 596.8,655.7 597.4,655.5 598.1,655.3 598.7,655.2 599.3,655.0 599.9,654.8 600.6,654.7 601.2,654.5 601.8,654.4 602.4,654.2 603.0,654.0 603.7,653.9 604.3,653.7 604.9,653.6 605.5,653.4 606.2,653.3 606.8,653.1 607.4,652.9 608.0,652.8 608.7,652.6 609.3,652.5 609.9,652.3 610.5,652.2 611.1,652.0 611.8,651.9 612.4,651.7 613.0,651.6 613.6,651.4 614.3,651.3 614.9,651.1 615.5,651.0 616.1,650.8 616.8,650.6 617.4,650.5 618.0,650.3 618.6,650.2 619.2,650.0 619.9,649.9 620.5,649.7 621.1,649.6 621.7,649.4 622.4,649.3 623.0,649.1 623.6,649.0 624.2,648.9 624.9,648.7 625.5,648.6 626.1,648.4 626.7,648.3 627.3,648.1 628.0,648.0 628.6,647.8 629.2,647.7 629.8,647.5 630.5,647.4 631.1,647.2 631.7,647.1 632.3,646.9 632.9,646.8 633.6,646.7 634.2,646.5 634.8,646.4 635.4,646.2 636.1,646.1 636.7,645.9 637.3,645.8 637.9,645.7 638.6,645.5 639.2,645.4 639.8,645.2 640.4,645.1 641.0,644.9 641.7,644.8 642.3,644.7 642.9,644.5 643.5,644.4 644.2,644.3 644.8,644.1 645.4,644.0 646.0,643.8 646.7,643.7 647.3,643.6 647.9,643.4 648.5,643.3 649.1,643.1 649.8,643.0 650.4,642.9 651.0,642.7 651.6,642.6 652.3,642.5 652.9,642.3 653.5,642.2 654.1,642.1 654.8,641.9 655.4,641.8 656.0,641.7 656.6,641.5 657.2,641.4 657.9,641.3 658.5,641.1 659.1,641.0 659.7,640.9 660.4,640.7 661.0,640.6 661.6,640.5 662.2,640.3 662.9,640.2 663.5,640.1 664.1,640.0 664.7,639.8 665.3,639.7 666.0,639.6 666.6,639.4 667.2,639.3 667.8,639.2 668.5,639.1 669.1,638.9 669.7,638.8 670.3,638.7 671.0,638.5 671.6,638.4 672.2,638.3 672.8,638.2 673.4,638.0 674.1,637.9 674.7,637.8 675.3,637.7 675.9,637.5 676.6,637.4 677.2,637.3 677.8,637.2 678.4,637.0 679.1,636.9 679.7,636.8 680.3,636.7 680.9,636.5 681.5,636.4 682.2,636.3 682.8,636.2 683.4,636.1 684.0,635.9 684.7,635.8 685.3,635.7 685.9,635.6 686.5,635.5 687.2,635.3 687.8,635.2 688.4,635.1 689.0,635.0 689.6,634.9 690.3,634.8 690.9,634.6 691.5,634.5 692.1,634.4 692.8,634.3 693.4,634.2 694.0,634.1 694.6,633.9 695.2,633.8 695.9,633.7 696.5,633.6 697.1,633.5 697.7,633.4 698.4,633.3 699.0,633.2 699.6,633.0 700.2,632.9 700.9,632.8 701.5,632.7 702.1,632.6 702.7,632.5 703.3,632.4 704.0,632.3 704.6,632.1 705.2,632.0 705.8,631.9 706.5,631.8 707.1,631.7 707.7,631.6 708.3,631.5 709.0,631.4 709.6,631.2 710.2,631.1 710.8,631.0 711.4,630.9 712.1,630.8 712.7,630.7 713.3,630.6 713.9,630.5 714.6,630.4 715.2,630.2 715.8,630.1 716.4,630.0 717.1,629.9 717.7,629.8 718.3,629.7 718.9,629.6 719.5,629.5 720.2,629.4 720.8,629.3 721.4,629.1 722.0,629.0 722.7,628.9 723.3,628.8 723.9,628.7 724.5,628.6 725.2,628.5 725.8,628.4 726.4,628.2 727.0,628.1 727.6,628.0 728.3,627.9 728.9,627.8 729.5,627.7 730.1,627.6 730.8,627.5 731.4,627.3 732.0,627.2 732.6,627.1 733.3,627.0 733.9,626.9 734.5,626.8 735.1,626.7 735.7,626.5 736.4,626.4 737.0,626.3 737.6,626.2 738.2,626.1 738.9,626.0 739.5,625.9 740.1,625.8 740.7,625.6 741.4,625.5 742.0,625.4 742.6,625.3 743.2,625.2 743.8,625.1 744.5,625.0 745.1,624.9 745.7,624.7 746.3,624.6 747.0,624.5 747.6,624.4 748.2,624.3 748.8,624.2 749.5,624.1 750.1,623.9 750.7,623.8 751.3,623.7 751.9,623.6 752.6,623.5 753.2,623.4"/>
<polyline fill="none" stroke="#f00" stroke-width="1.7" marker-start="url(#mr)" marker-mid="url(#mr)" marker-end="url(#mr)" points="752.8,590.4 739.4,592.9 726.0,595.1 712.6,596.2 699.2,597.3 685.8,598.5 672.4,599.7 659.0,601.2 645.6,602.9 632.2,604.7 618.8,606.6 605.4,608.7 592.0,610.9 578.6,613.3 565.2,615.8 551.8,618.4 538.4,620.9 525.0,623.3 511.6,625.9 498.2,628.0 484.8,630.6 471.4,633.3 457.0,636.6 455.0,637.1 453.0,637.7 451.0,638.3 449.0,638.9 447.0,639.5 445.0,640.1 443.0,640.6 441.0,641.1 439.0,641.5 437.0,641.9 435.0,642.3 433.0,642.7 431.0,643.1 429.0,643.5 427.0,644.0 425.0,644.4 412.0,647.7 398.8,652.7 386.0,884.0 371.9,887.0 358.4,890.4 344.9,892.3 331.4,895.5 318.3,898.6 304.8,902.4 291.3,908.0 277.8,913.3 264.3,919.0 250.8,924.3 237.3,928.4 223.8,933.1 210.4,936.9 196.9,940.6 183.4,944.1 169.9,946.8 156.4,949.6 142.9,952.4 129.4,955.0"/>
<polyline fill="none" stroke="#f00" stroke-width="1.7" marker-start="url(#mr)" marker-mid="url(#mr)" marker-end="url(#mr)" points="129.4,955.7 142.8,953.5 156.3,951.9 169.8,950.0 183.2,948.8 196.7,946.9 210.1,944.8 223.6,942.2 237.0,940.0 250.4,938.4 263.9,936.3 277.4,934.5 290.8,932.3 304.2,929.1 317.7,926.9 331.1,924.9 344.6,922.7 358.0,920.5 371.5,918.9 384.9,916.2 398.4,914.1 411.9,911.6 422.5,909.8 424.5,909.4 426.5,908.9 428.5,908.4 430.5,907.9 432.5,907.4 434.5,906.8 436.5,906.2 438.5,905.6 440.5,905.0 442.5,904.4 444.5,903.7 446.5,902.9 448.5,902.1 450.5,901.3 452.5,900.6 454.5,899.9 456.5,899.3 469.6,896.7 484.2,891.5 496.7,663.8 510.1,661.1 523.5,658.6 537.5,656.3 551.0,653.1 564.5,650.0 577.7,645.3 591.2,639.6 604.7,633.7 618.2,628.0 631.7,621.6 644.8,617.1 658.3,613.5 671.5,609.2 685.0,603.6 698.5,600.2 712.6,597.2 725.8,595.1 739.3,592.9 752.8,590.4"/>
</g>
<path d="M126.3,772H757.4M441.8,538.6V1006.4" stroke="#000" stroke-width="5" fill="none"/>
<text x="175.3" y="1052.5" font-size="38.5" text-anchor="middle">-6</text>
<text x="264.3" y="1052.5" font-size="38.5" text-anchor="middle">-4</text>
<text x="353.3" y="1052.5" font-size="38.5" text-anchor="middle">-2</text>
<text x="442.0" y="1052.5" font-size="38.5" text-anchor="middle">0</text>
<text x="531.0" y="1052.5" font-size="38.5" text-anchor="middle">2</text>
<text x="620.0" y="1052.5" font-size="38.5" text-anchor="middle">4</text>
<text x="709.0" y="1052.5" font-size="38.5" text-anchor="middle">6</text>
<text x="110.2" y="621.0" font-size="38.5" text-anchor="end">4</text>
<text x="110.2" y="701.8" font-size="38.5" text-anchor="end">2</text>
<text x="110.2" y="782.6" font-size="38.5" text-anchor="end">0</text>
<text x="110.2" y="863.4" font-size="38.5" text-anchor="end">-2</text>
<text x="110.2" y="944.2" font-size="38.5" text-anchor="end">-4</text>
<text x="442" y="1094.2" font-size="47.2" text-anchor="middle">H (T)</text>
<text transform="translate(51.4,884.5) rotate(-90)" font-size="49.2"><tspan>M</tspan><tspan dx="9.3">(</tspan><tspan font-family='"DejaVu Sans", "Liberation Sans", sans-serif' font-weight="normal" font-size="43">μ</tspan><tspan dy="18" font-size="31.5">B</tspan><tspan dy="-18">/f.u.)</tspan></text>
<text x="138" y="582" font-size="42.3" letter-spacing="0.7">(b)</text>
<line x1="156.1" y1="627.6" x2="240" y2="627.6" stroke="#f00" stroke-width="1.8"/><circle cx="197.8" cy="627.6" r="7.8" fill="url(#gr)"/>
<text x="249.3" y="640.2" font-size="36">5 K</text>
<line x1="157.2" y1="673.2" x2="239.5" y2="673.2" stroke="#000" stroke-width="1"/><path d="M197.80,665.40L199.69,671.20L205.79,671.20L200.85,674.79L202.74,680.60L197.80,677.01L192.86,680.60L194.75,674.79L189.81,671.20L195.91,671.20Z" fill="#000" stroke="#000" stroke-width="0.9"/>
<text x="249.6" y="685.6" font-size="36">75K</text>
</svg>
</body></html>
